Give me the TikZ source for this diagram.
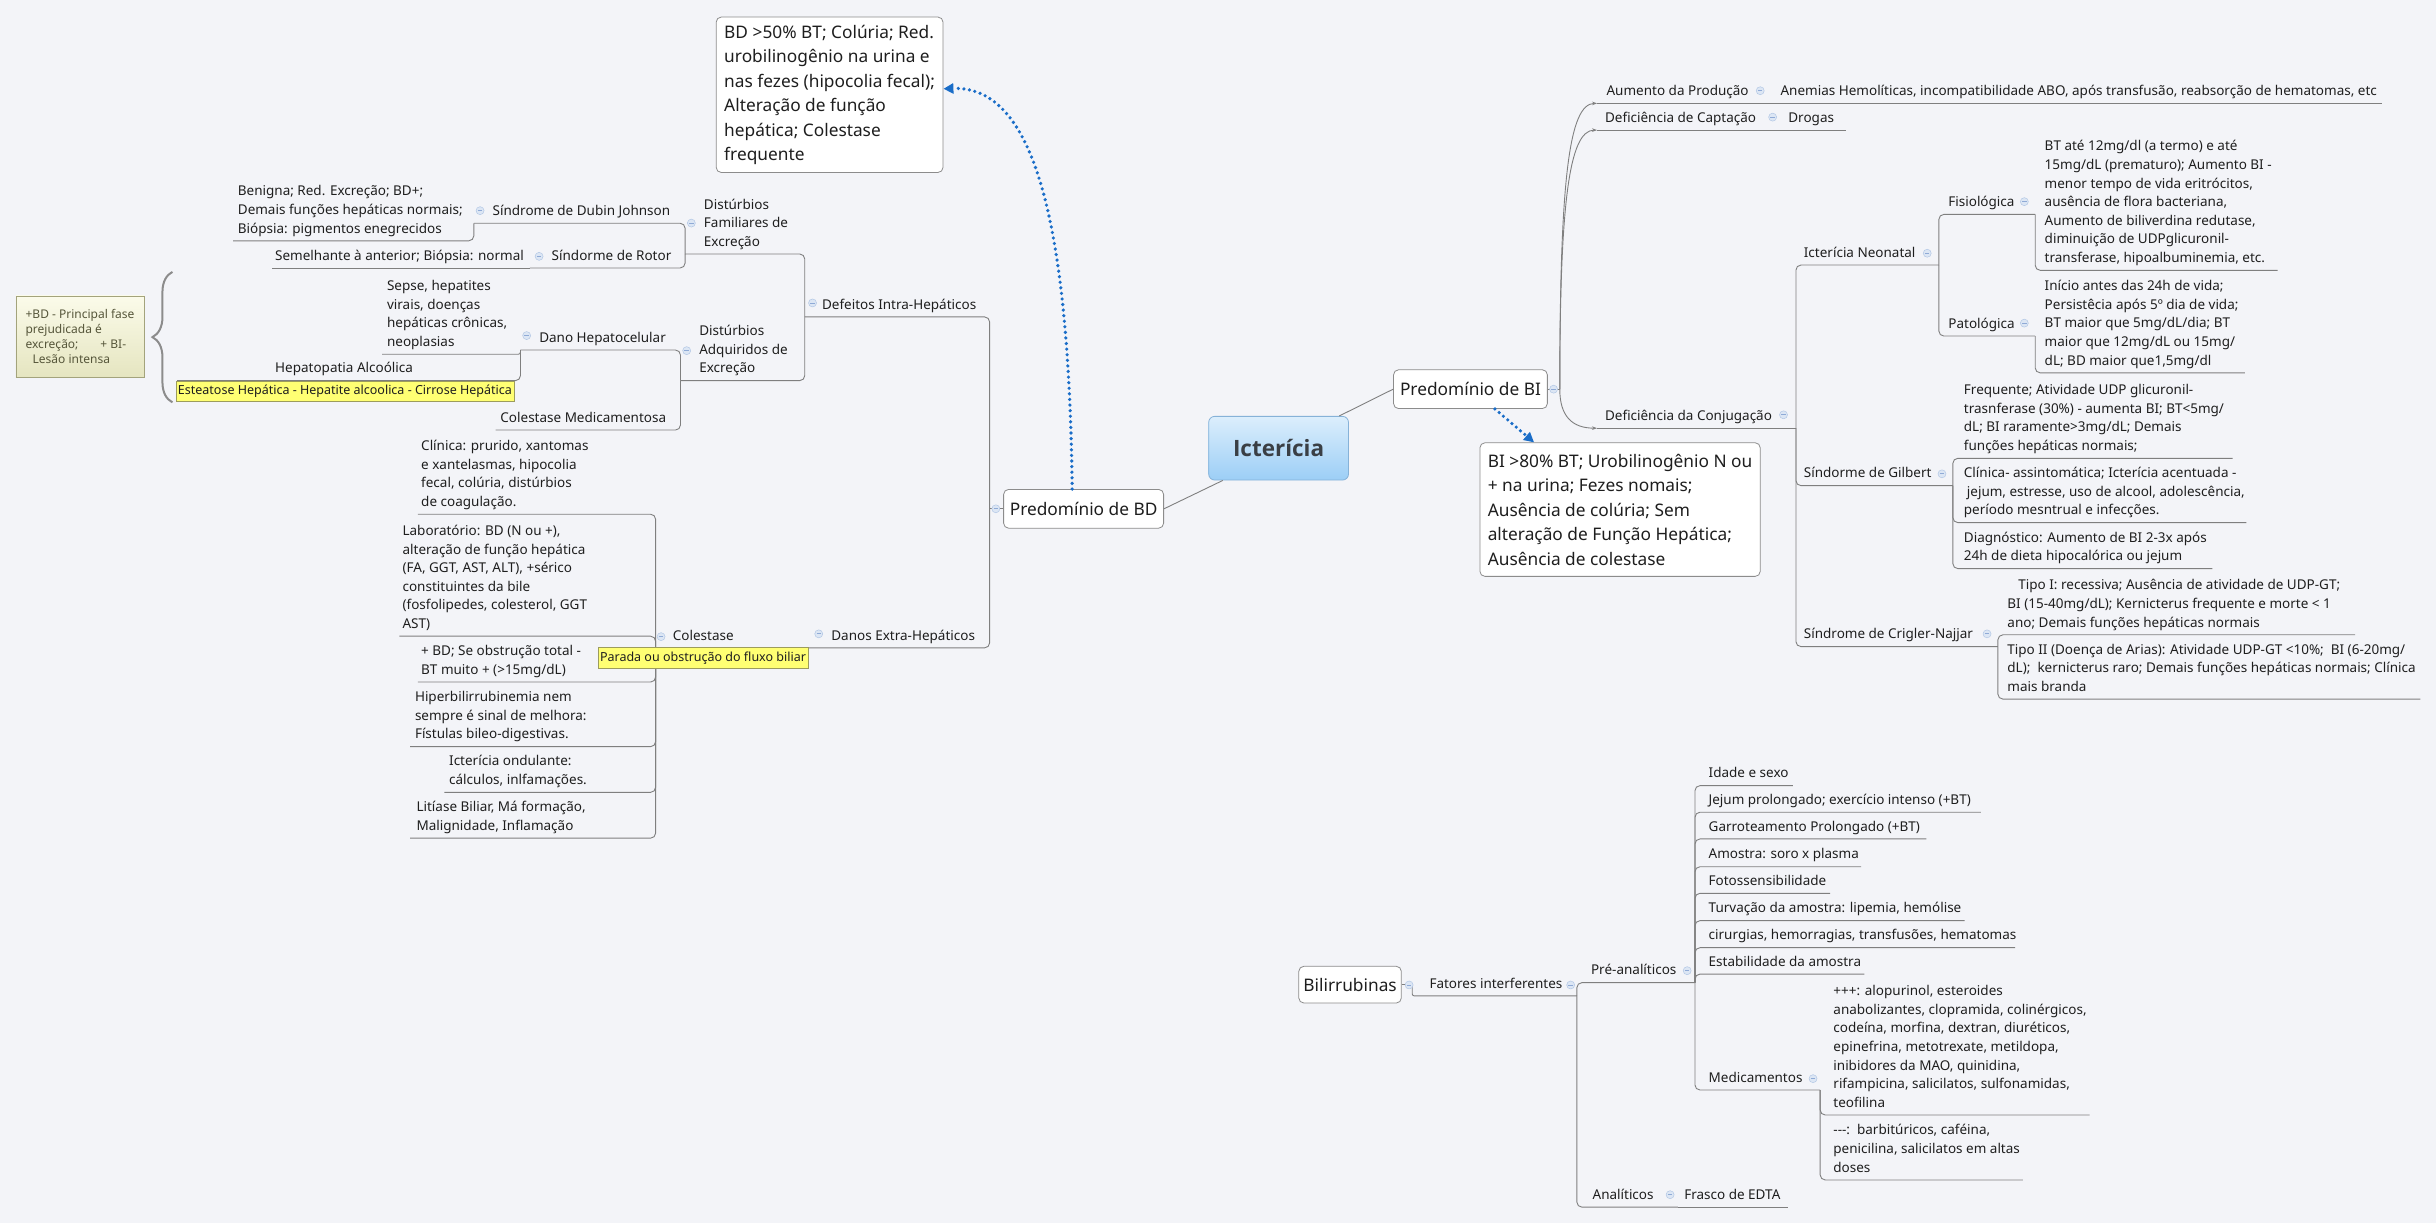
\documentclass[tikz,border=0pt]{standalone}
\usepackage{fontspec}
\setmainfont{Noto Sans}
\newfontfamily\ictfont{Open Sans}
\usetikzlibrary{arrows.meta,calc,decorations.pathreplacing}
\definecolor{bgcol}{HTML}{F3F4F8}
\definecolor{lncol}{HTML}{7F7F7F}
\definecolor{txtcol}{HTML}{1E1E1E}
\definecolor{boxline}{HTML}{8C8C8C}
\definecolor{foldfill}{HTML}{DCE6F4}
\definecolor{foldline}{HTML}{B2C7E5}
\definecolor{foldmin}{HTML}{8FAAD6}
\definecolor{linkblue}{HTML}{1A6DC8}
\definecolor{icttop}{HTML}{DCEEFC}
\definecolor{ictbot}{HTML}{9CCEF6}
\definecolor{ictline}{HTML}{86B2D8}
\definecolor{icttext}{HTML}{3A3F45}
\definecolor{labfill}{HTML}{FFFF73}
\definecolor{labline}{HTML}{9C9C5C}
\definecolor{calltop}{HTML}{FBFBEA}
\definecolor{callbot}{HTML}{E5E5C0}
\definecolor{callline}{HTML}{A3A37C}
\definecolor{calltext}{HTML}{56563A}
\newcommand{\fsm}{\fontsize{13.5}{18.6}\selectfont}
\newcommand{\flg}{\fontsize{17.3}{24.5}\selectfont}

\begin{document}
\begin{tikzpicture}[x=1.5536pt,y=-1.5536pt,
  tp/.style={font=\fsm, text=txtcol, inner sep=0pt, anchor=base west, align=left},
  ln/.style={draw=lncol, line width=0.9pt, rounded corners=5pt},
  box/.style={draw=boxline, fill=white, rounded corners=5pt, line width=0.8pt, font=\flg, text=txtcol, inner sep=0pt, align=left},
  lab/.style={draw=labline, fill=labfill, line width=0.6pt, font=\fontsize{12.5}{15}\selectfont, text=txtcol, inner xsep=2pt, inner ysep=0pt, minimum height=20.5pt},
  crv/.style={draw=lncol, line width=0.9pt, -{Stealth[length=5pt,width=3.5pt]}},
  lnk/.style={draw=linkblue, line width=3.6pt, dash pattern=on 0pt off 5.6pt, line cap=round, -{Triangle[length=10pt,width=10pt]}},
  brc/.style={draw=lncol!90, line width=2pt, decorate, decoration={brace, amplitude=20pt}},
  foldmark/.pic={\draw[draw=foldline, fill=foldfill, line width=0.5pt] (0,0) circle[radius=4pt];
    \draw[draw=foldmin, line width=0.8pt] (-2.2pt,0) -- (2.2pt,0);}]
\fill[bgcol] (0,0) rectangle (1568,787);
\useasboundingbox (0,0) rectangle (1568,787);

\node[draw=ictline, top color=icttop, bottom color=ictbot, rounded corners=6pt, line width=0.8pt,
  minimum width=139.8pt, minimum height=63.7pt, inner sep=0pt,
  font=\ictfont\bfseries\fontsize{22.5}{26}\selectfont, text=icttext] (ict) at (823,288.5) {Icterícia};
\node[box, align=center, minimum width=160pt, minimum height=38.8pt] (bd) at (697.5,327.5) {Predomínio de BD};
\node[box, align=center, minimum width=153.8pt, minimum height=38.8pt] (bi) at (946.5,250.5) {Predomínio de BI};
\node[box, minimum width=226.8pt, minimum height=155.4pt] (bdn) at (534,61)
  {BD >50\% BT; Colúria; Red.\\urobilinogênio na urina e\\nas fezes (hipocolia fecal);\\Alteração de função\\hepática; Colestase\\frequente};
\node[box, minimum width=280.3pt, minimum height=133.6pt] (bin) at (1042.8,328)
  {BI >80\% BT; Urobilinogênio N ou\\+ na urina; Fezes nomais;\\Ausência de colúria; Sem\\alteração de Função Hepática;\\Ausência de colestase};
\node[box, align=center, minimum width=102.5pt, minimum height=36.7pt] (bil) at (869,633.8) {Bilirrubinas};
\node[draw=callline, top color=calltop, bottom color=callbot, line width=0.7pt, minimum width=128.2pt, minimum height=81.1pt,
  inner sep=0pt, align=left, font=\fontsize{12}{15}\selectfont, text=calltext] (cal) at (51.5,216.6)
  {+BD - Principal fase\\prejudicada é\\excreção;\hspace{22pt}+ BI-\\\hspace*{7pt}Lesão intensa};
\draw[brc] (111,259) -- (111,175);

\coordinate (bdJ) at (637,327.5);
\coordinate (dih) at (518,204);
\coordinate (deh) at (518,417);
\coordinate (dfe) at (441,163.5);
\coordinate (dae) at (438,245);
\coordinate (sdj) at (305,143.7);
\coordinate (ben) at (150,155);
\coordinate (sro) at (341,172.5);
\coordinate (sem) at (175,172.5);
\coordinate (dhc) at (335,225.3);
\coordinate (sep) at (246,228);
\coordinate (hal) at (114,245);
\coordinate (cme) at (319,276.8);
\coordinate (col) at (422,417);
\coordinate (cli) at (269,331);
\coordinate (lab) at (257,409.5);
\coordinate (bdt) at (269,439);
\coordinate (hip) at (264,480.6);
\coordinate (ico) at (286,510);
\coordinate (lit) at (264,539.5);

\coordinate (biJ) at (1004,250.5);
\coordinate (aum0) at (1028,66.5);
\coordinate (aum) at (1140,66.5);
\coordinate (ane) at (1533,66.5);
\coordinate (cap0) at (1028,83.7);
\coordinate (cap) at (1146,83.7);
\coordinate (dro) at (1188,83.7);
\coordinate (con0) at (1028,275.6);
\coordinate (con) at (1156,275.6);
\coordinate (neo) at (1248,170.6);
\coordinate (fis) at (1310,138);
\coordinate (fit) at (1466,174);
\coordinate (pat) at (1310,216.3);
\coordinate (pit) at (1445,240);
\coordinate (gil) at (1257,312.6);
\coordinate (gfr) at (1437,295);
\coordinate (gcl) at (1446,336.4);
\coordinate (gdi) at (1424,366);
\coordinate (cri) at (1286,416.2);
\coordinate (ct1) at (1516,408.6);
\coordinate (ct2) at (1558,450);

\coordinate (bilJ) at (909,633.8);
\coordinate (fat) at (1015,641);
\coordinate (pre) at (1091,632.5);
\coordinate (ida) at (1154,505.7);
\coordinate (jej) at (1275,522.8);
\coordinate (gar) at (1240,540);
\coordinate (amo) at (1198,557.9);
\coordinate (fot) at (1178,575);
\coordinate (tur) at (1264.5,592.6);
\coordinate (cir) at (1297,610);
\coordinate (est) at (1200,627);
\coordinate (med) at (1171.6,701.6);
\coordinate (mp) at (1345,717.7);
\coordinate (mm) at (1302,759.5);
\coordinate (ana) at (1080,777);
\coordinate (edt) at (1151,777);

\draw[ln] (ict.210) -- (bd.east);
\draw[ln] (ict.28) -- (bi.west);
\draw[ln] (bd.west) -- (bdJ);
\draw[ln] (bdJ) |- (dih);
\draw[ln] (bdJ) |- (deh);
\draw[ln] (dih) |- (dfe);
\draw[ln] (dih) |- (dae);
\draw[ln] (dfe) |- (sdj);
\draw[ln] (dfe) |- (sro);
\draw[ln] (sdj) |- (ben);
\draw[ln] (sro) -- (sem);
\draw[ln] (dae) |- (dhc);
\draw[ln] (dae) |- (cme);
\draw[ln, rounded corners=2pt] (dhc) |- (sep);
\draw[ln] (dhc) |- (hal);
\draw[ln] (deh) -- (col);
\draw[ln] (col) |- (cli);
\draw[ln] (col) |- (lab);
\draw[ln] (col) |- (bdt);
\draw[ln] (col) |- (hip);
\draw[ln] (col) |- (ico);
\draw[ln] (col) |- (lit);

\draw[ln] (bi.east) -- (biJ);
\draw[crv] (biJ) .. controls (1004,115) and (1010,67) .. (aum0);
\draw[crv] (biJ) .. controls (1004,130) and (1010,84) .. (cap0);
\draw[crv] (biJ) .. controls (1004,268) and (1012,275.6) .. (con0);
\draw[ln] (aum0) -- (aum) -- (ane);
\draw[ln] (cap0) -- (cap) -- (dro);
\draw[ln] (con0) -- (con);
\draw[ln] (con) |- (neo);
\draw[ln] (con) |- (gil);
\draw[ln] (con) |- (cri);
\draw[ln] (neo) |- (fis);
\draw[ln] (neo) |- (pat);
\draw[ln] (fis) |- (fit);
\draw[ln] (pat) |- (pit);
\draw[ln] (gil) |- (gfr);
\draw[ln] (gil) |- (gcl);
\draw[ln] (gil) |- (gdi);
\draw[ln] (cri) |- (ct1);
\draw[ln] (cri) |- (ct2);

\draw[ln] (bil.east) -- (bilJ);
\draw[ln, rounded corners=2pt] (bilJ) |- (fat);
\draw[ln] (fat) |- (pre);
\draw[ln] (fat) |- (ana);
\draw[ln] (ana) -- (edt);
\draw[ln] (pre) |- (ida);
\draw[ln] (pre) |- (jej);
\draw[ln] (pre) |- (gar);
\draw[ln] (pre) |- (amo);
\draw[ln] (pre) |- (fot);
\draw[ln] (pre) |- (tur);
\draw[ln] (pre) |- (cir);
\draw[ln] (pre) |- (est);
\draw[ln] (pre) |- (med);
\draw[ln] (med) |- (mp);
\draw[ln] (med) |- (mm);

\draw[lnk] (bd.120) .. controls (688,140) and (665,55) .. (bdn.3);
\draw[lnk] (bi.-39) -- (bin.142);

\node[tp] (tdih) at (529,199) {Defeitos Intra-Hepáticos};
\node[tp] (tdeh) at (535,412) {Danos Extra-Hepáticos};
\node[tp] (tdfe) at (453,158.5) {Distúrbios\\Familiares de\\Excreção};
\node[tp] (tdae) at (450,240) {Distúrbios\\Adquiridos de\\Excreção};
\node[tp] (tsdj) at (317,138.7) {Síndrome de Dubin Johnson};
\node[tp] (tben) at (153,150) {Benigna; Red. Excreção; BD+;\\Demais funções hepáticas normais;\\Biópsia: pigmentos enegrecidos};
\node[tp] (tsro) at (355,167.5) {Síndorme de Rotor};
\node[tp] (tsem) at (177,167.5) {Semelhante à anterior; Biópsia: normal};
\node[tp] (tdhc) at (347,220.3) {Dano Hepatocelular};
\node[tp] (tsep) at (249,223) {Sepse, hepatites\\virais, doenças\\hepáticas crônicas,\\neoplasias};
\node[tp] (thal) at (177,240) {Hepatopatia Alcoólica};
\node[tp] (tcme) at (322,271.8) {Colestase Medicamentosa};
\node[tp] (tcol) at (433,412) {Colestase};
\node[tp] (tcli) at (271,326) {Clínica: prurido, xantomas\\e xantelasmas, hipocolia\\fecal, colúria, distúrbios\\de coagulação.};
\node[tp] (tlab) at (259,404.5) {Laboratório: BD (N ou +),\\alteração de função hepática\\(FA, GGT, AST, ALT), +sérico\\constituintes da bile\\(fosfolipedes, colesterol, GGT\\AST)};
\node[tp] (tbdt) at (271,434) {+ BD; Se obstrução total -\\BT muito + (>15mg/dL)};
\node[tp] (thip) at (267,475.6) {Hiperbilirrubinemia nem\\sempre é sinal de melhora:\\Fístulas bileo-digestivas.};
\node[tp] (tico) at (289,505) {Icterícia ondulante:\\cálculos, inlfamações.};
\node[tp] (tlit) at (268,534.5) {Litíase Biliar, Má formação,\\Malignidade, Inflamação};
\node[lab] (lest) at (222,251.8) {Esteatose Hepática - Hepatite alcoolica - Cirrose Hepática};
\node[lab] (lpar) at (452.5,423.5) {Parada ou obstrução do fluxo biliar};

\node[tp] (taum) at (1034,61.5) {Aumento da Produção};
\node[tp] (tane) at (1146,61.5) {Anemias Hemolíticas, incompatibilidade ABO, após transfusão, reabsorção de hematomas, etc};
\node[tp] (tcap) at (1033,78.7) {Deficiência de Captação};
\node[tp] (tdro) at (1151,78.7) {Drogas};
\node[tp] (tcon) at (1033,270.6) {Deficiência da Conjugação};
\node[tp] (tneo) at (1161,165.6) {Icterícia Neonatal};
\node[tp] (tfis) at (1254,133) {Fisiológica};
\node[tp] (tfit) at (1316,169) {BT até 12mg/dl (a termo) e até\\15mg/dL (prematuro); Aumento BI -\\menor tempo de vida eritrócitos,\\ausência de flora bacteriana,\\Aumento de biliverdina redutase,\\diminuição de UDPglicuronil-\\transferase, hipoalbuminemia, etc.};
\node[tp] (tpat) at (1254,211.3) {Patológica};
\node[tp] (tpit) at (1316,235) {Início antes das 24h de vida;\\Persistêcia após 5º dia de vida;\\BT maior que 5mg/dL/dia; BT\\maior que 12mg/dL ou 15mg/\\dL; BD maior que1,5mg/dl};
\node[tp] (tgil) at (1161,307.6) {Síndorme de Gilbert};
\node[tp] (tgfr) at (1264,290) {Frequente; Atividade UDP glicuronil-\\trasnferase (30\%) - aumenta BI; BT<5mg/\\dL; BI raramente>3mg/dL; Demais\\funções hepáticas normais;};
\node[tp] (tgcl) at (1264,331.4) {Clínica- assintomática; Icterícia acentuada -\\\hspace*{3pt}jejum, estresse, uso de alcool, adolescência,\\período mesntrual e infecções.};
\node[tp] (tgdi) at (1264,361) {Diagnóstico: Aumento de BI 2-3x após\\24h de dieta hipocalórica ou jejum};
\node[tp] (tcri) at (1161,411.2) {Síndrome de Crigler-Najjar};
\node[tp] (tct1) at (1292,403.6) {\hspace*{11pt}Tipo I: recessiva; Ausência de atividade de UDP-GT;\\BI (15-40mg/dL); Kernicterus frequente e morte < 1\\ano; Demais funções hepáticas normais};
\node[tp] (tct2) at (1292,445) {Tipo II (Doença de Arias): Atividade UDP-GT <10\%;\ \ BI (6-20mg/\\dL);\ \ kernicterus raro; Demais funções hepáticas normais; Clínica\\mais branda};

\node[tp] (tfat) at (920,636) {Fatores interferentes};
\node[tp] (tpre) at (1024,627.5) {Pré-analíticos};
\node[tp] (tida) at (1099.7,500.7) {Idade e sexo};
\node[tp] (tjej) at (1099.7,517.8) {Jejum prolongado; exercício intenso (+BT)};
\node[tp] (tgar) at (1099.7,535) {Garroteamento Prolongado (+BT)};
\node[tp] (tamo) at (1099.7,552.9) {Amostra: soro x plasma};
\node[tp] (tfot) at (1099.7,570) {Fotossensibilidade};
\node[tp] (ttur) at (1099.7,587.6) {Turvação da amostra: lipemia, hemólise};
\node[tp] (tcir) at (1099.7,605) {cirurgias, hemorragias, transfusões, hematomas};
\node[tp] (test) at (1099.7,622) {Estabilidade da amostra};
\node[tp] (tmed) at (1099.7,696.6) {Medicamentos};
\node[tp] (tmp) at (1180,712.7) {+++: alopurinol, esteroides\\anabolizantes, clopramida, colinérgicos,\\codeína, morfina, dextran, diuréticos,\\epinefrina, metotrexate, metildopa,\\inibidores da MAO, quinidina,\\rifampicina, salicilatos, sulfonamidas,\\teofilina};
\node[tp] (tmm) at (1180,754.5) {-{}-{}-:\ \ barbitúricos, caféina,\\penicilina, salicilatos em altas\\doses};
\node[tp] (tana) at (1025,772) {Analíticos};
\node[tp] (tedt) at (1084,772) {Frasco de EDTA};

\pic at (641,327.5) {foldmark};
\pic at (523,195) {foldmark};
\pic at (527,408) {foldmark};
\pic at (445,143.6) {foldmark};
\pic at (442,225.7) {foldmark};
\pic at (309,135.6) {foldmark};
\pic at (347,165) {foldmark};
\pic at (339,216) {foldmark};
\pic at (425.5,409.8) {foldmark};
\pic at (1000,250.5) {foldmark};
\pic at (1133,58.4) {foldmark};
\pic at (1141,75.4) {foldmark};
\pic at (1148,267) {foldmark};
\pic at (1240.5,163) {foldmark};
\pic at (1303,129.8) {foldmark};
\pic at (1303,208) {foldmark};
\pic at (1250,305) {foldmark};
\pic at (1279,408) {foldmark};
\pic at (907,634) {foldmark};
\pic at (1011,634) {foldmark};
\pic at (1086,624.8) {foldmark};
\pic at (1167,694.3) {foldmark};
\pic at (1075,769) {foldmark};
\end{tikzpicture}
\end{document}
